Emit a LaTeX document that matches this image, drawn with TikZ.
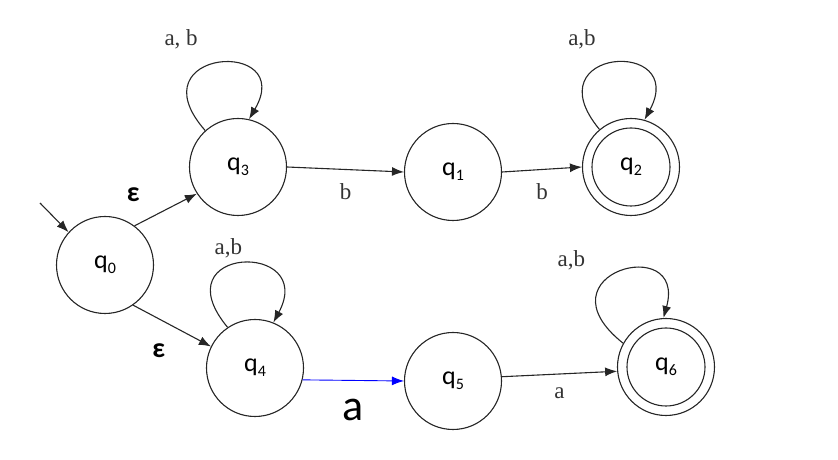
\documentclass[tikz,border=0pt]{standalone}
\usepackage{fontspec}
\setmainfont{Liberation Serif}
\newfontfamily\statefont{Carlito}
\usetikzlibrary{arrows.meta}

\newcommand{\qst}[1]{{\statefont q\raisebox{-0.4ex}{\fontsize{16}{16}\selectfont #1}}}

\begin{document}
\begin{tikzpicture}[x=1pt, y=1pt, >={Latex[length=12pt,width=9pt]}, line width=1.1pt, draw=black!85,
	state/.style={circle, draw, minimum size=97pt, inner sep=0pt, font=\statefont\fontsize{26}{28}\selectfont},
	accept/.style={state, path picture={\draw (path picture bounding box.center) circle (39pt);}},
	lbl/.style={text=black!80, font=\fontsize{23}{26}\selectfont},
	eps/.style={font=\statefont\bfseries\fontsize{28}{30}\selectfont}]
	\useasboundingbox (0,0) rectangle (838,460);
	%\draw [help lines, step=50] (0,0) grid (838,460);
	\node [state] (q0) at (105,195) {\qst{0}};
	\node [state] (q3) at (238,293) {\qst{3}};
	\node [state] (q1) at (453,288) {\qst{1}};
	\node [accept] (q2) at (631,293) {\qst{2}};
	\node [state] (q4) at (255,92) {\qst{4}};
	\node [state] (q5) at (453,79) {\qst{5}};
	\node [accept] (q6) at (666,93) {\qst{6}};
	\coordinate (start) at (40,257);

	\draw [->] (start) -- (q0.138);
	\draw [->] (q0.53) -- (q3.213) node [pos=0.5, above left, eps, xshift=-22pt, yshift=4pt] {ε};
	\draw [->] (q0.-55) -- (q4.154) node [pos=0.5, below left, eps, xshift=-3pt, yshift=-14pt] {ε};
	\draw [->] (q3.east) -- (q1.west) node [pos=0.5, below=10pt, lbl] {b};
	\draw [->] (q1.east) -- (q2.west) node [pos=0.5, below=10pt, lbl] {b};
	\draw [->, blue, line width=0.9pt] (q4.-14) -- (q5.west) node [pos=0.5, below=15pt, text=black, font=\statefont\fontsize{44}{46}\selectfont] {a};
	\draw [->] (q5.5) -- (q6.185) node [pos=0.5, below=10pt, lbl] {a};

	% loops
	\draw [->] (q3.132) .. controls +(-72,82) and +(48,82) .. (q3.77) node [pos=0.5, above, lbl, xshift=-37pt, yshift=10pt] {a, b};
	\draw [->] (q2.130) .. controls +(-68,82) and +(44,82) .. (q2.74) node [pos=0.5, above, lbl, xshift=-31pt, yshift=10pt] {a,b};
	\draw [->] (q4.124) .. controls +(-68,82) and +(44,82) .. (q4.68) node [pos=0.5, above, lbl, xshift=-13pt, yshift=2pt] {a,b};
	\draw [->] (q6.151) .. controls +(-88,70) and +(24,86) .. (q6.93) node [pos=0.5, above, lbl, xshift=-48pt, yshift=-2pt] {a,b};
\end{tikzpicture}
\end{document}
